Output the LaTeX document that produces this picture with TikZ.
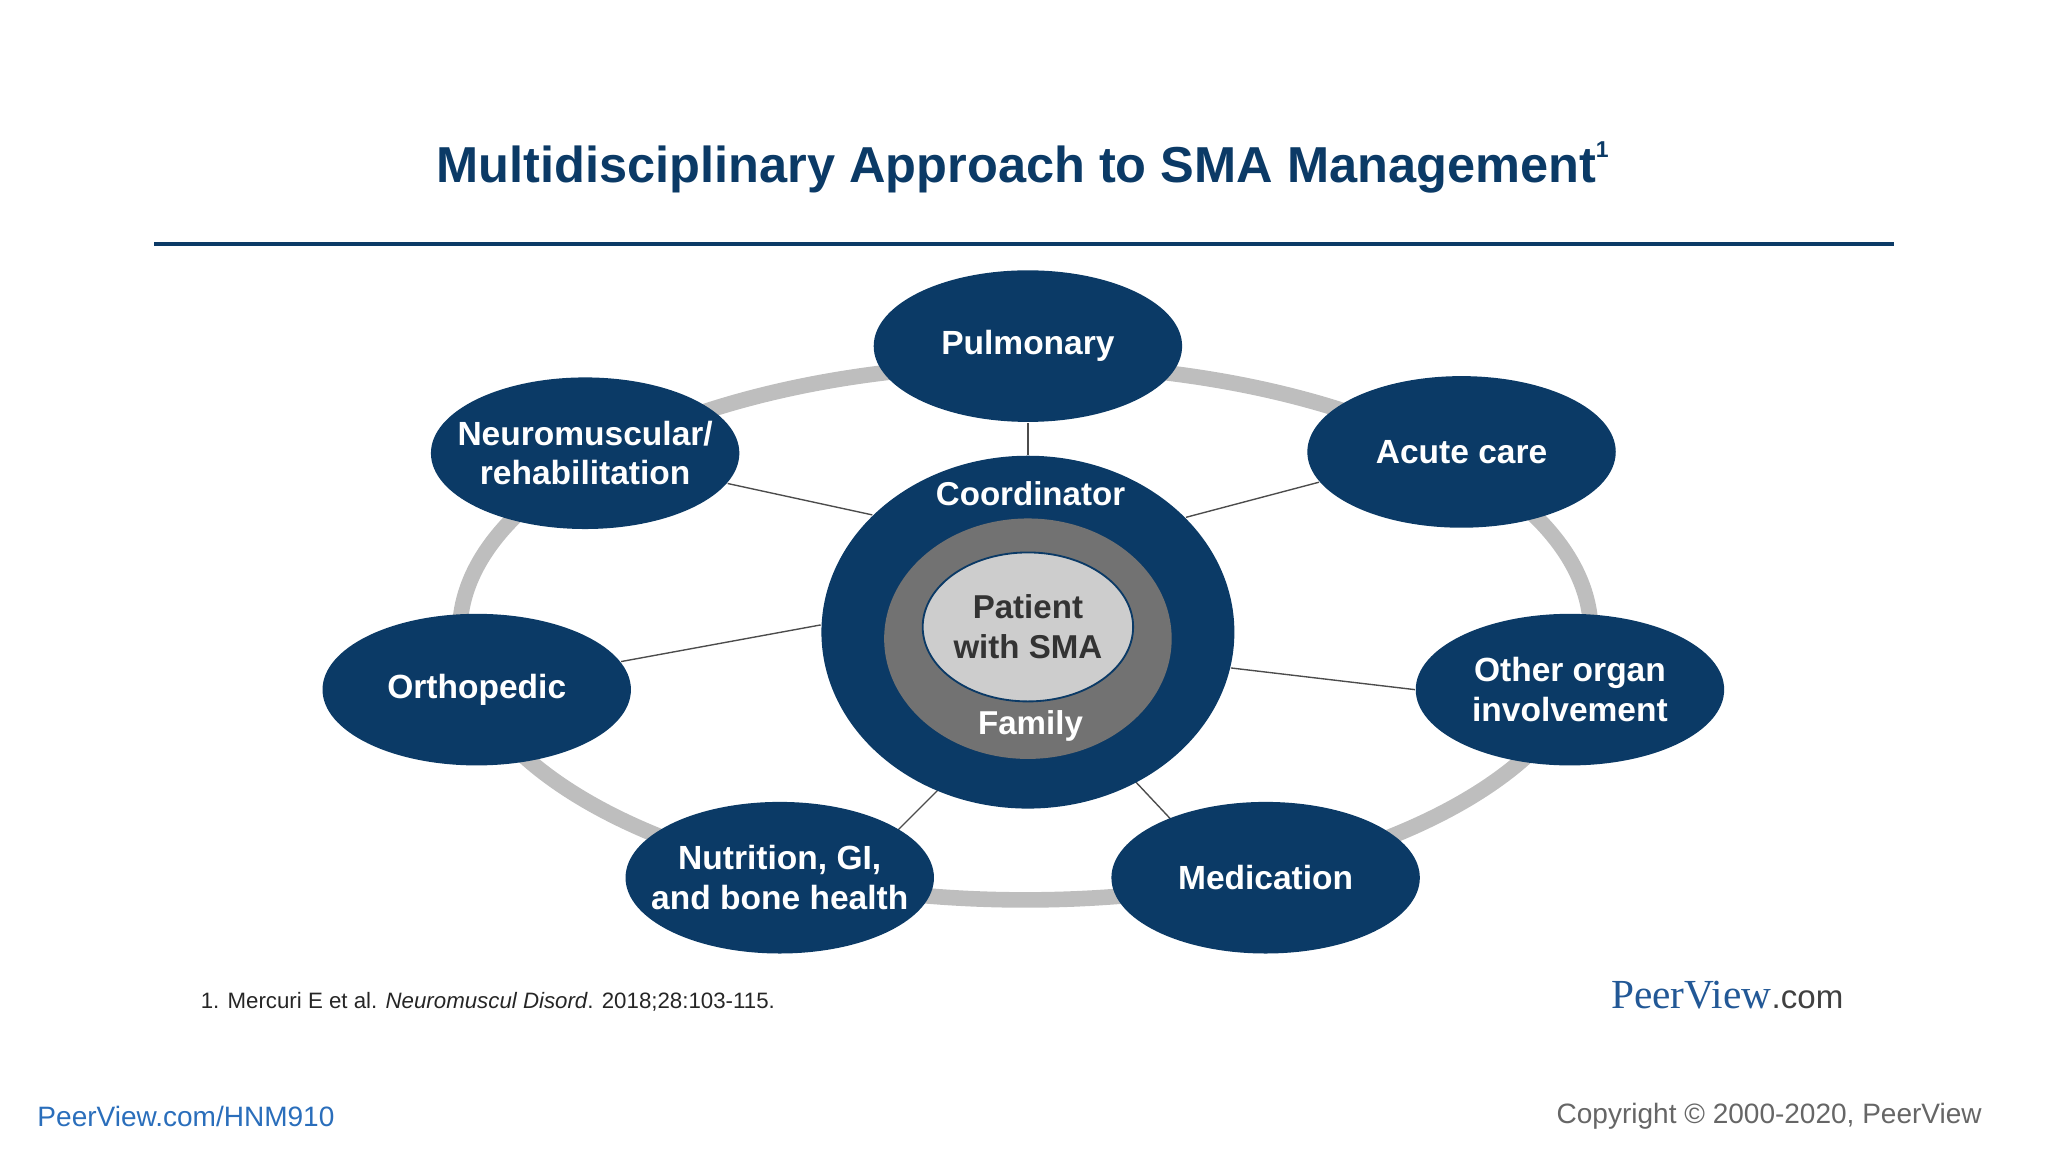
\documentclass[tikz,border=0pt]{standalone}
\usepackage{fontspec}
\setmainfont{Liberation Sans}
\newfontfamily\serifpv{Liberation Serif}
\usetikzlibrary{shapes.geometric,backgrounds}
\definecolor{pvblue}{HTML}{0B3A66}
\definecolor{ringgray}{HTML}{BEBEBE}
\definecolor{midgray}{HTML}{727272}
\definecolor{lightg}{HTML}{CDCDCD}
\definecolor{linkblue}{HTML}{2A6EBB}
\begin{document}
\begin{tikzpicture}[x=0.01cm,y=-0.01cm,
  spec/.style={ellipse,fill=pvblue,text=white,minimum width=2.36cm,minimum height=1.16cm,inner xsep=-12pt,inner ysep=-4pt,align=center,font=\fontsize{7.3}{8.6}\selectfont\bfseries},
  link/.style={draw=black!70,line width=0.3pt}]
\useasboundingbox (0,0) rectangle (1568,882);
\node[text=pvblue,font=\fontsize{11}{13}\selectfont\bfseries,anchor=base] (title) at (783,140) {Multidisciplinary Approach to SMA Management\raisebox{0.5em}{\fontsize{5}{6}\selectfont 1}};
\draw[pvblue,line width=0.9pt] (118,187) -- (1450,187);
\draw[ringgray,line width=3.4pt] (785,484) ellipse [x radius=433,y radius=205];
\node[ellipse,fill=pvblue,minimum width=3.16cm,minimum height=2.7cm,inner sep=0pt] (c) at (787,484) {};
\node[ellipse,fill=midgray,minimum width=2.2cm,minimum height=1.84cm,inner sep=0pt] (g) at (787,489) {};
\node[ellipse,fill=lightg,draw=pvblue,line width=0.4pt,minimum width=1.52cm,minimum height=1.14cm,inner sep=0pt,align=center,text=black!80,font=\fontsize{7.2}{8.8}\selectfont\bfseries] (pt) at (787,480) {Patient\\with SMA};
\node[text=white,font=\fontsize{7.2}{8.4}\selectfont\bfseries] (coord) at (789,378) {Coordinator};
\node[text=white,font=\fontsize{7.2}{8.4}\selectfont\bfseries] (fam) at (789,556) {Family};
\node[spec] (pul) at (787,265) {Pulmonary};
\node[spec] (neu) at (448,347) {Neuromuscular/\\rehabilitation};
\node[spec] (acu) at (1119,346) {Acute care};
\node[spec] (ort) at (365,528) {Orthopedic};
\node[spec] (oth) at (1202,528) {Other organ\\involvement};
\node[spec] (nut) at (597,672) {Nutrition, GI,\\and bone health};
\node[spec] (med) at (969,672) {Medication};
\coordinate (nc) at (719,604);
\coordinate (nn) at (687,636);
\coordinate (mc) at (868,597);
\coordinate (mm) at (899,630);
\begin{scope}[on background layer]
\draw[link] (c.north) -- (pul.south);
\draw[link] (c.143) -- (neu.-12);
\draw[link] (c.36) -- (acu.192);
\draw[link] (c.178) -- (ort.11);
\draw[link] (c.-10) -- (oth.180);
\draw[link] (nc) -- (nn);
\draw[link] (mc) -- (mm);
\end{scope}
\node[anchor=west,inner sep=0pt,font=\fontsize{4.85}{5.8}\selectfont,text=black!85] (fn) at (153,767) {1. Mercuri E et al. \textit{Neuromuscul Disord}. 2018;28:103-115.};
\node[anchor=east,inner sep=0pt] (logo) at (1412,762) {{\serifpv\fontsize{9}{10}\selectfont\color{linkblue!80!black}PeerView}{\fontsize{7.2}{8}\selectfont\color{black!75}.com}};
\node[anchor=west,inner sep=0pt,text=linkblue,font=\fontsize{6.1}{7}\selectfont] (url) at (28,855) {PeerView.com/HNM910};
\node[anchor=east,inner sep=0pt,text=black!60,font=\fontsize{6.1}{7}\selectfont] (copy) at (1518,855) {Copyright © 2000-2020, PeerView};
\end{tikzpicture}
\end{document}
